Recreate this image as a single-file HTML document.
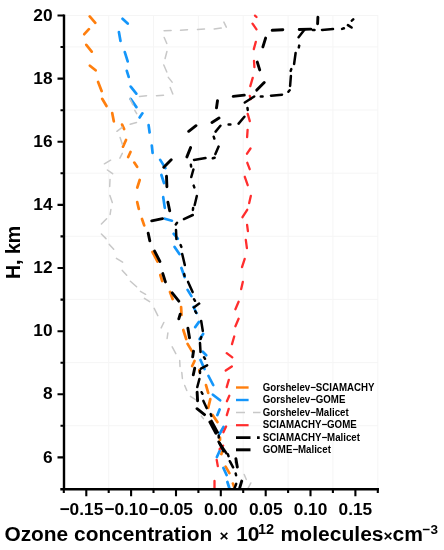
<!DOCTYPE html>
<html><head><meta charset="utf-8">
<style>
html,body{margin:0;padding:0;background:#fff;}
body{width:444px;height:550px;overflow:hidden;}
svg{display:block;}
text{font-family:"Liberation Sans",Arial,sans-serif;font-weight:bold;fill:#000;}
.tk{font-size:17.3px;}
.ttl{font-size:20.9px;}
.lg{font-size:10.6px;}
</style></head><body>
<svg width="444" height="550" viewBox="0 0 444 550">
<rect width="444" height="550" fill="#fff"/>
<!-- grid -->
<g stroke="#f5f5f5" stroke-width="1" fill="none">
<path d="M64 15.5H378M64 46.9H378M64 110H378M64 173.2H378M64 236.3H378M64 299.4H378M64 362.6H378M64 425.7H378"/>
<path d="M108.7 15V489M153.5 15V489M198.4 15V489M243.2 15V489M288.1 15V489M332.9 15V489M377.8 15V489"/>
</g>
<!-- SERIES -->
<g id="series">
<path d="M89.7 16.4L95.3 22.8M88.9 29.2L84.3 34.2M86.3 44.9L91.7 51.6M89.9 65.7L95.6 70.3M98.1 82.0L101.6 91.0M102.2 98.8L106.5 106.0M112.2 113.1L113.8 121.3M122.1 124.6L124.1 129.0M126.0 140.0L123.0 146.7M130.5 152.0L128.2 157.0M134.3 162.6L137.1 166.8M139.7 180.0L137.3 187.5M137.2 202.1L138.8 208.9M142.0 219.0L144.2 225.4M152.5 252.0L157.5 261.5M160.3 275.0L162.2 281.0M170.0 292.0L172.6 299.0M181.1 307.1L181.5 314.9M183.3 330.0L186.2 339.0M187.6 343.9L191.9 351.1M194.5 361.0L192.2 366.0M199.3 370.1L199.7 371.9M206.0 385.1L208.2 392.9M210.3 399.1L208.2 407.9M212.6 414.9L217.4 422.1M220.0 437.6L220.0 439.9M222.1 452.0L221.4 454.0M225.6 466.6L229.4 473.1M232.9 483.6L234.6 488.0" stroke="#ff7f0e" stroke-width="2.7" stroke-linecap="round" fill="none"/>
<path d="M122.5 18.8L127.7 23.6M118.9 32.1L120.5 40.9M124.8 52.1L127.7 61.4M126.8 70.8L128.7 76.9M130.7 86.6L136.3 93.6M130.6 98.9L136.4 107.1M142.4 113.3L139.6 117.5M148.6 125.1L149.6 132.5M151.8 145.6L152.6 152.9M160.2 159.9L165.4 168.1M161.4 175.0L164.0 183.0M163.2 197.1L164.8 207.9M164.8 218.7L171.9 220.7M173.7 233.8L177.8 238.7M174.6 246.9L179.4 254.1M181.4 268.0L184.6 277.0M187.6 289.9L191.4 296.1M193.5 307.0L196.5 313.0M199.0 321.9L195.2 327.1M203.1 333.9L199.6 339.1M202.8 351.8L206.2 355.2M200.5 360.0L204.5 369.0M208.5 376.0L213.2 385.0M212.9 394.7L220.1 400.3M219.6 409.4L217.4 415.0M223.5 427.0L219.5 434.0M219.6 451.0L216.9 457.0M223.4 468.0L226.6 475.0M227.4 482.0L229.3 488.0" stroke="#1496fa" stroke-width="2.7" stroke-linecap="round" fill="none"/>
<path d="M223.9 22.1L226.3 27.1M214.2 28.9L221.2 28.1M197.5 29.6L204.5 29.0M180.5 30.2L187.5 29.8M164.1 30.8L171.1 30.4M164.2 37.5L166.8 43.5M166.9 51.5L165.1 58.5M163.8 65.0L166.8 72.0M168.3 77.4L172.1 82.1M170.2 87.5L172.8 94.0M156.5 95.8L163.5 95.2M139.5 96.5L146.5 95.7M129.9 98.6L132.8 104.6M134.8 110.4L136.7 113.6M130.2 124.3L136.5 122.5M116.9 131.3L122.1 127.3M120.1 137.5L122.4 144.5M122.3 153.4L119.9 158.1M104.4 163.8L110.6 160.2M107.4 170.0L112.6 173.7M110.0 179.5L109.7 186.5M109.9 195.5L112.3 202.5M110.9 209.5L110.1 214.5M101.4 224.0L106.6 218.8M101.4 234.0L106.0 238.6M109.3 244.4L113.7 249.3M116.4 258.3L122.6 262.2M122.3 270.4L126.7 275.3M130.4 281.3L136.6 286.7M140.4 291.3L145.6 294.3M144.4 298.3L149.6 301.7M154.2 308.4L157.8 315.6M163.8 322.5L161.2 327.9M167.9 332.9L167.1 338.5M172.2 346.9L175.8 353.6M179.7 360.5L180.0 366.5M181.8 372.5L182.4 378.5M184.7 385.5L186.8 390.5M190.4 396.3L195.6 399.7M201.3 416.0L203.4 418.6M234.8 462.1L237.7 466.6M244.2 474.5L246.3 479.5M250.8 483.0L247.9 488.6" stroke="#c8c8c8" stroke-width="1.5" stroke-linecap="round" fill="none"/>
<path d="M255.0 15.6L256.5 17.0M252.5 23.7L256.5 29.3M255.8 41.9L253.8 49.1M254.0 60.9L254.4 67.1M252.7 77.9L250.3 86.1M249.8 95.9L250.8 99.1M247.7 113.9L249.8 121.1M247.6 129.9L247.1 137.1M250.5 148.5L247.0 153.7M247.3 162.8L249.7 169.2M244.8 176.8L247.7 185.2M250.8 195.9L249.2 203.1M247.2 209.8L242.5 217.2M247.1 224.9L247.9 231.1M245.8 239.9L246.9 248.1M244.7 258.9L242.0 267.1M242.8 281.9L241.2 289.1M238.6 301.8L235.4 309.2M238.6 318.8L235.4 326.2M234.2 336.5L232.0 344.1M226.7 353.1L232.3 357.4M231.8 366.5L225.7 370.5M228.8 379.9L226.7 387.1M229.3 395.8L226.9 401.2M228.7 408.9L226.8 415.1M226.1 426.5L223.4 432.2M223.1 445.6L219.6 449.1M216.7 459.9L217.8 466.1M214.5 480.9L214.5 488.1" stroke="#ff2d2d" stroke-width="2.3" stroke-linecap="round" fill="none"/>
<path d="M353.2 19.4L351.8 20.6M347.9 25.1L351.6 27.5M343.9 28.3L342.1 28.9M322.0 29.9L333.0 29.1M314.5 30.1L312.7 29.9M304.4 29.8L298.6 37.2M299.2 45.6L298.8 47.4M295.6 53.0L294.1 64.0M291.3 69.1L290.7 70.9M290.9 76.0L290.1 86.0M289.6 90.3L288.4 91.7M271.0 95.7L282.0 94.7M262.6 96.6L260.8 96.6M254.2 96.5L244.8 102.5M247.5 108.1L247.7 109.9M244.4 116.8L238.6 123.6M230.4 124.4L228.6 124.4M220.4 125.8L215.6 131.6M213.7 136.7L214.3 138.5M218.6 146.6L215.4 154.1M214.6 157.7L212.8 158.3M205.5 158.1L194.0 159.9M190.9 164.8L191.1 166.6M193.4 169.5L191.3 177.0M193.7 185.6L194.3 187.4M196.8 196.0L194.7 205.0M193.1 208.1L192.9 209.9M192.8 215.0L183.9 219.1M177.0 222.8L175.8 224.4M176.0 230.0L176.4 239.0M180.6 245.1L181.4 246.9M182.2 254.0L184.8 265.0M184.2 274.1L184.6 275.9M188.1 281.9L192.6 292.1M194.0 299.2L195.0 300.8M199.2 303.6L193.8 307.4M195.2 311.2L196.2 312.8M201.2 321.0L202.8 331.0M201.3 337.1L200.7 338.9M200.0 343.0L200.5 352.0M204.0 357.2L205.0 358.8M207.1 365.4L200.9 368.6M200.0 371.1L200.0 372.9M199.4 379.0L197.3 387.0M201.6 392.2L202.4 393.8M203.4 400.9L206.6 408.1M210.7 414.1L211.3 415.9M211.5 420.9L217.7 432.3M218.7 435.6L218.7 437.4M218.6 441.8L226.4 453.2M227.9 454.3L228.5 456.1M229.8 461.2L233.1 467.3M235.7 473.4L236.1 475.2M236.2 483.9L234.6 488.1" stroke="#000" stroke-width="2.5" stroke-linecap="round" fill="none"/>
<path d="M317.9 17.2L317.6 23.8M299.2 29.5L310.8 29.1M272.2 30.3L282.8 29.7M265.6 38.1L262.9 46.9M257.3 62.1L259.7 69.9M264.2 82.6L256.8 90.1M233.2 96.4L244.3 95.1M217.5 100.7L216.5 107.8M219.0 118.1L212.0 122.4M196.0 125.7L188.7 131.3M190.6 147.6L186.9 156.9M171.2 159.8L163.8 167.2M166.5 176.2L166.9 186.8M167.9 202.2L169.7 210.8M162.5 218.6L151.7 220.8M148.2 233.2L149.8 240.8M154.6 251.1L159.9 261.4M162.8 273.6L165.4 281.9M172.2 292.9L178.8 301.1M180.2 314.2L178.8 318.8M187.9 328.2L189.5 337.8M193.5 351.2L192.7 356.8M194.7 368.2L193.3 374.8M197.1 392.2L197.6 400.8M197.0 408.7L204.5 414.6M209.9 422.1L215.9 433.2M219.5 443.1L223.5 450.9M235.9 458.7L237.3 467.0M241.7 481.1L239.7 487.9" stroke="#000" stroke-width="2.9" stroke-linecap="round" fill="none"/>
</g>
<!-- axes -->
<g stroke="#000" stroke-width="2.1" fill="none">
<path d="M57.5 15.5H64M57.5 78.6H64M57.5 141.8H64M57.5 204.9H64M57.5 268H64M57.5 331.2H64M57.5 394.3H64M57.5 457.4H64"/>
<path d="M60.5 47H64M60.5 110.2H64M60.5 173.3H64M60.5 236.4H64M60.5 299.6H64M60.5 362.7H64M60.5 425.8H64"/>
<path d="M86.3 489V496.3M131.1 489V496.3M176.0 489V496.3M220.8 489V496.3M265.7 489V496.3M310.5 489V496.3M355.4 489V496.3"/>
<path d="M108.7 489V493M153.5 489V493M198.4 489V493M243.2 489V493M288.1 489V493M332.9 489V493M377.8 489V493"/>
<path d="M63.8 489V493"/>
</g>
<g stroke="#000" stroke-width="2.4" fill="none">
<path d="M64 14.6V489.3"/>
<path d="M60.3 489.2H379"/>
</g>
<!-- y labels -->
<g class="tk" text-anchor="end">
<text x="52.6" y="20.6">20</text><text x="52.6" y="83.7">18</text><text x="52.6" y="146.9">16</text><text x="52.6" y="210">14</text>
<text x="52.6" y="273.1">12</text><text x="52.6" y="336.3">10</text><text x="52.6" y="399.4">8</text><text x="52.6" y="462.5">6</text>
</g>
<g class="tk" text-anchor="middle">
<text x="81.4" y="514.8">−0.15</text><text x="126.2" y="514.8">−0.10</text><text x="171.1" y="514.8">−0.05</text><text x="220.8" y="514.8">0.00</text><text x="265.7" y="514.8">0.05</text><text x="310.5" y="514.8">0.10</text><text x="355.4" y="514.8">0.15</text>
</g>
<g class="ttl"><text x="4.4" y="540.7">Ozone concentration</text><text x="219.6" y="540.9" font-size="15.5">×</text><text x="236.2" y="540.7">10</text><text x="258" y="534.4" font-size="14.5">12</text><text x="280.6" y="540.7" font-size="21.05">molecules<tspan font-size="15.5">×</tspan>cm</text><text x="422.5" y="534.2" font-size="13.5">−3</text></g>
<text class="ttl" transform="translate(20.3 252.4) rotate(-90)" text-anchor="middle" style="font-size:19.6px">H, km</text>
<!-- legend -->
<g fill="none">
<path d="M236 387.5H248.6" stroke="#ff7f0e" stroke-width="2.4"/>
<path d="M236 400H248.6" stroke="#1496fa" stroke-width="2.4"/>
<path d="M236 412.5H245M253 412.5H260.5" stroke="#c8c8c8" stroke-width="1.5"/>
<path d="M236 425.2H248.6" stroke="#ff2d2d" stroke-width="2.2"/>
<path d="M236 437.7H250.5M257 437.7H259.7" stroke="#000" stroke-width="2.8"/>
<path d="M236 449.8H250.5" stroke="#000" stroke-width="3"/>
</g>
<g class="lg">
<text transform="translate(262.8 390.9) scale(0.915 1)">Gorshelev−SCIAMACHY</text>
<text transform="translate(262.8 403.3) scale(0.915 1)">Gorshelev−GOME</text>
<text transform="translate(262.8 415.7) scale(0.915 1)">Gorshelev−Malicet</text>
<text transform="translate(262.8 428.1) scale(0.915 1)">SCIAMACHY−GOME</text>
<text transform="translate(262.8 440.5) scale(0.915 1)">SCIAMACHY−Malicet</text>
<text transform="translate(262.8 452.9) scale(0.915 1)">GOME−Malicet</text>
</g>
</svg>
</body></html>
